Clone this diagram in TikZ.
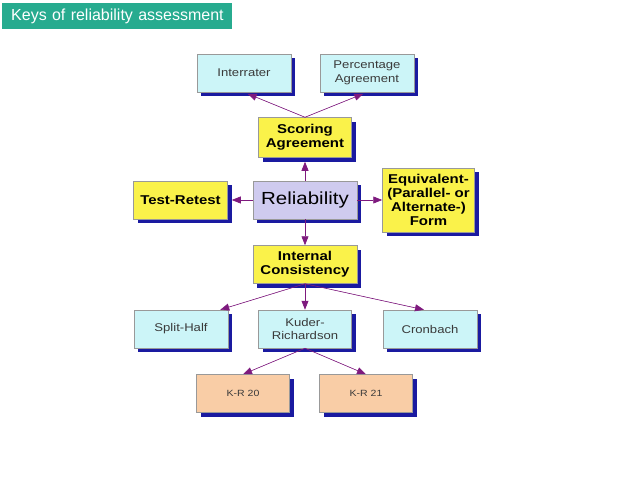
\documentclass[tikz,border=0pt]{standalone}
\usepackage{fontspec}
\setmainfont{Liberation Sans}
\newfontfamily\boxfont[FakeStretch=1.17]{Liberation Sans}
\usetikzlibrary{arrows.meta, positioning, shadows}
\usepackage{xcolor}

\definecolor{titleteal}{HTML}{27AB8F}
\definecolor{cyanbox}{HTML}{CCF5F8}
\definecolor{yellowbox}{HTML}{FAF24A}
\definecolor{lavbox}{HTML}{CFCBEF}
\definecolor{peachbox}{HTML}{F9CDA6}
\definecolor{shadowblue}{HTML}{1A1AA0}
\definecolor{arrowpurple}{HTML}{7E1A7E}
\definecolor{darktext}{HTML}{3A3A3A}

\tikzset{
  base/.style={rectangle, draw=gray!80, line width=0.5pt, minimum width=94pt, minimum height=38pt,
    align=center, inner sep=2pt,
    drop shadow={shadow xshift=4pt, shadow yshift=-4pt, fill=shadowblue, opacity=1}},
  subbox/.style={base, fill=cyanbox, text=darktext, font=\boxfont\fontsize{11.2}{13.5}\selectfont},
  keybox/.style={base, fill=yellowbox, font=\boxfont\bfseries\fontsize{12.8}{14}\selectfont},
  krbox/.style={base, fill=peachbox, text=darktext, font=\boxfont\fontsize{9}{10}\selectfont},
  link/.style={-{Triangle[length=9pt, width=7pt]}, draw=arrowpurple, fill=arrowpurple, line width=0.6pt}
}

\begin{document}
\begin{tikzpicture}[x=1pt, y=-1pt]
    \useasboundingbox (0,0) rectangle (638,479);

    % Title
    \node (title) [fill=titleteal, text=white, anchor=north west, minimum height=26pt,
      text width=222pt, inner xsep=4pt, inner ysep=0pt, align=left,
      font=\fontsize{16}{18}\selectfont] at (2,3) {\hspace*{5pt}Keys of reliability assessment};

    % Nodes
    \node (rel) [base, fill=lavbox, minimum width=104pt, font=\boxfont\fontsize{17.5}{20}\selectfont] at (305,200) {Reliability};
    \node (score) [keybox, minimum height=40pt, minimum width=93pt, above=23pt of rel] {Scoring\\Agreement};
    \node (inter) [subbox, above=25pt of score, xshift=-61pt] {Interrater};
    \node (pct) [subbox, above=25pt of score, xshift=62pt] {Percentage\\Agreement};
    \node (test) [keybox, left=25pt of rel] {Test-Retest};
    \node (equiv) [keybox, minimum width=92pt, minimum height=64pt, right=25pt of rel] {Equivalent-\\(Parallel- or\\Alternate-)\\Form};
    \node (intc) [keybox, minimum width=104pt, below=26pt of rel] {Internal\\Consistency};
    \node (kuder) [subbox, minimum width=93pt, below=26pt of intc] {Kuder-\\Richardson};
    \node (split) [subbox, left=30pt of kuder] {Split-Half};
    \node (cron) [subbox, right=31pt of kuder] {Cronbach};
    \node (kr20) [krbox, minimum width=93pt, below=26pt of kuder, xshift=-62pt] {K-R 20};
    \node (kr21) [krbox, minimum width=93pt, below=26pt of kuder, xshift=61pt] {K-R 21};

    % Arrows
    \draw[link, shorten >=4pt] (score.north) -- (inter.south);
    \draw[link, shorten >=4pt] (score.north) -- (pct.south);
    \draw[link, shorten >=4pt] (rel.north) -- (score.south);
    \draw[link, shorten >=4pt] (rel.west) -- (test.east);
    \draw[link] (rel.east) -- (equiv.west);
    \draw[link] (rel.south) -- (intc.north);
    \draw[link] (intc.south) -- ([xshift=-8pt]split.north east);
    \draw[link] (intc.south) -- (kuder.north);
    \draw[link] (intc.south) -- ([xshift=-6pt]cron.north);
    \draw[link] (kuder.south) -- (kr20.north);
    \draw[link] (kuder.south) -- (kr21.north);
\end{tikzpicture}
\end{document}
